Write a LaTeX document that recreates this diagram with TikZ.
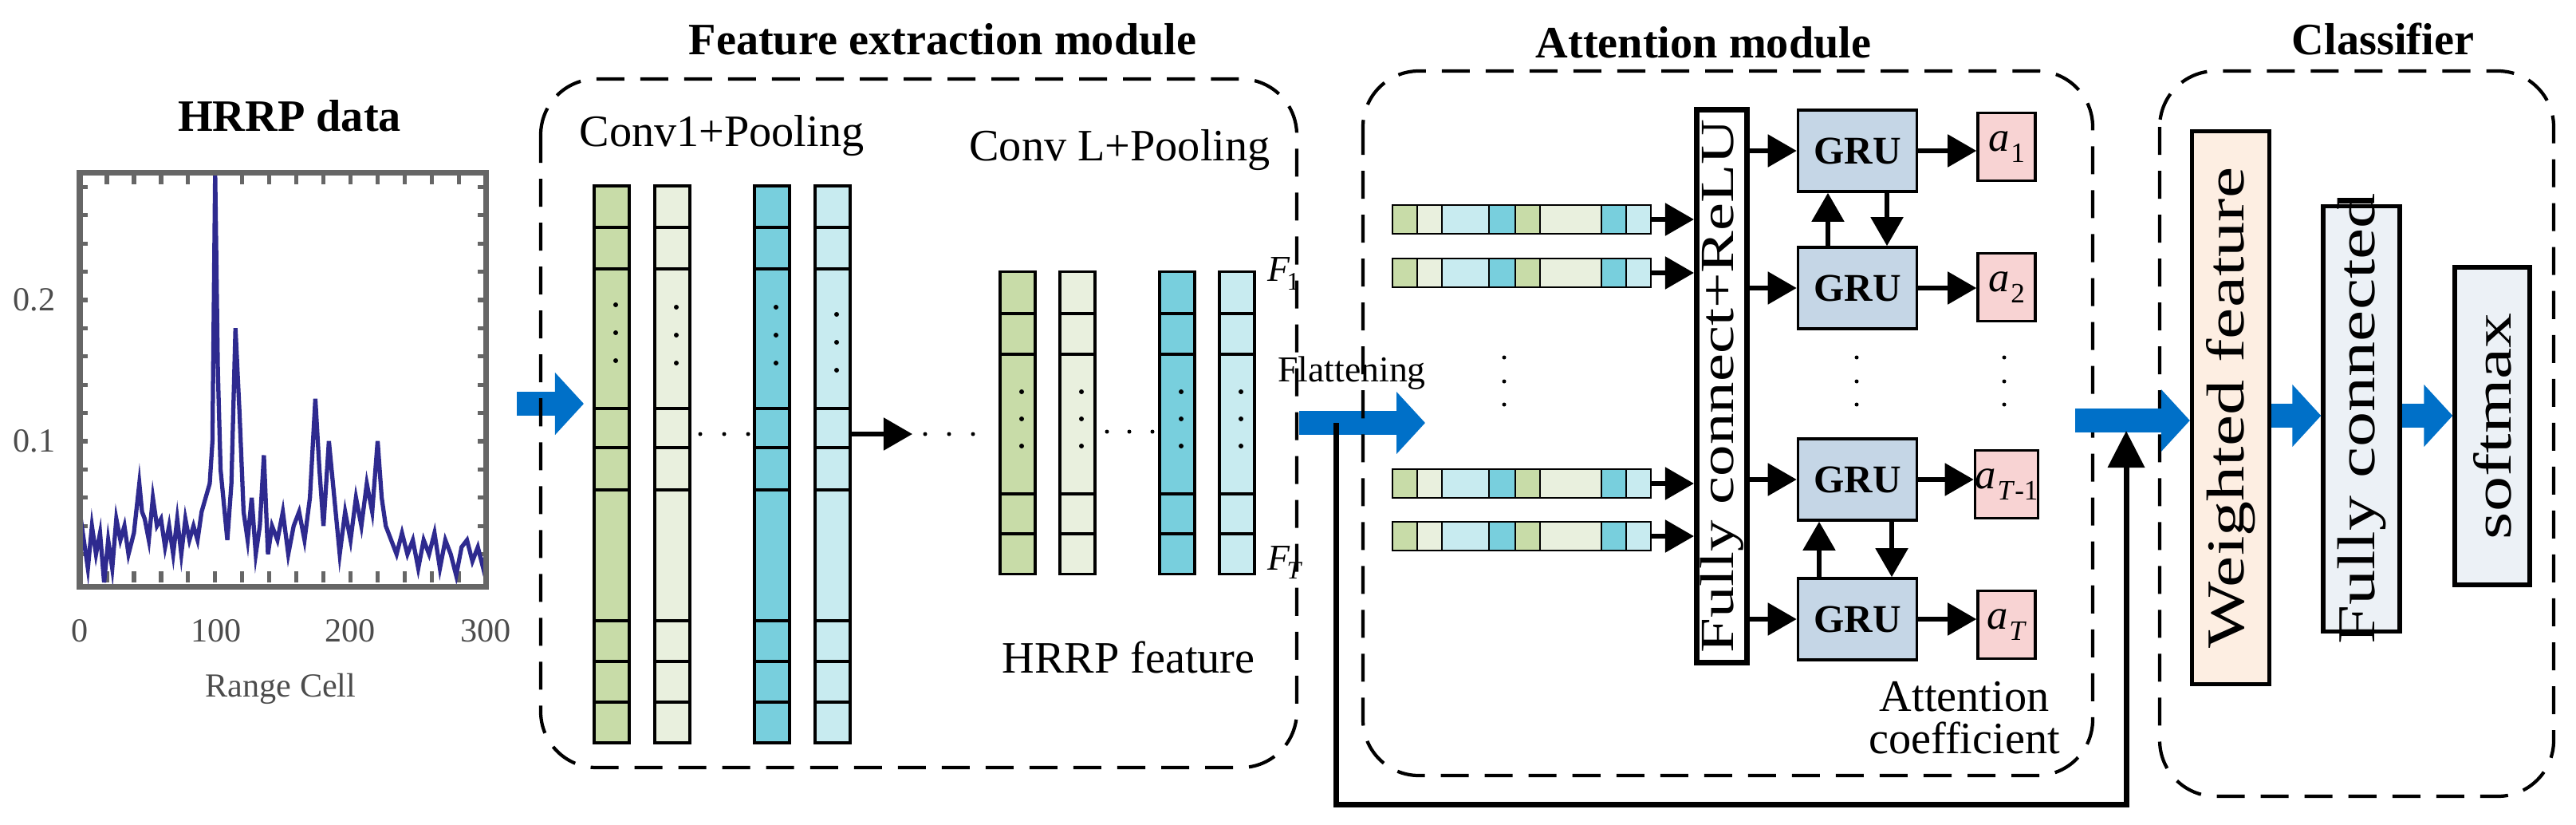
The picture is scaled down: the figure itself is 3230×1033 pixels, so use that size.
\documentclass[tikz,border=0pt]{standalone}
\usepackage{fontspec}
\setmainfont{Liberation Serif}
\usepackage{tikz}
\usetikzlibrary{arrows.meta,positioning,calc}
\definecolor{cgreen}{RGB}{200,220,168}
\definecolor{clgreen}{RGB}{233,240,222}
\definecolor{ccyan}{RGB}{120,207,221}
\definecolor{clcyan}{RGB}{200,235,240}
\definecolor{grufill}{RGB}{197,214,230}
\definecolor{afill}{RGB}{248,211,211}
\definecolor{wffill}{RGB}{253,238,226}
\definecolor{clsfill}{RGB}{236,241,246}
\definecolor{arrowblue}{RGB}{0,112,200}
\definecolor{hrrpblue}{RGB}{46,42,143}
\newcommand{\coefsym}[1]{\textit{a}\kern0.5pt\raisebox{-4pt}{\fontsize{10}{11}\selectfont #1}}
\newcommand{\widetxt}[1]{\scalebox{1.32}[1]{#1}}

\begin{document}
\begin{tikzpicture}[
    x=0.01cm, y=-0.01cm,
    title/.style={font=\fontsize{16}{19}\selectfont\bfseries},
    txt/.style={font=\fontsize{16}{19}\selectfont},
    rot/.style={rotate=90, font=\fontsize{17}{20}\selectfont},
    small/.style={font=\fontsize{12}{14}\selectfont, text=black!70},
    module/.style={draw, line width=1.2pt, dash pattern=on 0.35cm off 0.2cm, rounded corners=0.7cm},
    fcol/.style={rectangle, draw, line width=1pt, inner sep=0pt, minimum width=0.44cm},
    seg/.style={draw, line width=0.8pt},
    gru/.style={rectangle, draw, line width=1pt, fill=grufill, minimum width=1.49cm, minimum height=1.02cm, font=\fontsize{14}{16}\selectfont\bfseries},
    coef/.style={rectangle, draw, line width=1pt, fill=afill, minimum width=0.72cm, minimum height=0.85cm, inner sep=0pt, font=\fontsize{15}{17}\selectfont},
    cls/.style={rectangle, draw, line width=1.5pt, inner sep=0pt},
    blk/.style={-{Triangle[length=0.36cm,width=0.4cm]}, line width=1.5pt},
    big/.style={-{Triangle[length=0.36cm,width=0.76cm]}, line width=0.3cm, arrowblue},
    dot/.style={fill, circle, inner sep=0pt, minimum size=0.07cm}
]
\useasboundingbox (0,0) rectangle (3230,1033);

% HRRP data plot
\node[title] (hrrptitle) at (363,145) {HRRP data};
\begin{scope}[shift={(100,730)}, x=0.016967cm, y=17.7cm]
  \foreach \t in {20,40,...,280} {
    \draw[black!60, line width=1.5pt] (\t,0) -- (\t,0.008);
    \draw[black!60, line width=1.5pt] (\t,0.29) -- (\t,0.282);
  }
  \foreach \t in {0.02,0.04,...,0.28} {
    \draw[black!60, line width=1.5pt] (0,\t) -- (6,\t);
    \draw[black!60, line width=1.5pt] (300,\t) -- (294,\t);
  }
  \draw[hrrpblue, line width=1.5pt] plot coordinates {
    (0,.05) (3,.03) (6,.01) (9,.04) (12,.02) (15,.035) (18,.0) (21,.03) (24,.01) (27,.045) (30,.03) (33,.04) (36,.02)
    (40,.035) (44,.07) (46,.05) (48,.045) (51,.03) (54,.06) (57,.04) (60,.045) (63,.025) (66,.04) (69,.02) (72,.045)
    (75,.02) (78,.045) (81,.03) (84,.04) (87,.03) (90,.05) (93,.06) (96,.07) (98,.1) (100,.29) (102,.15) (104,.08) (106,.06)
    (109,.03) (112,.07) (115,.18) (118,.12) (121,.05) (124,.03) (127,.06) (130,.02)
    (133,.04) (136,.09) (139,.02) (142,.04) (146,.03) (150,.05) (154,.02) (158,.04)
    (162,.05) (166,.03) (170,.06) (174,.13) (177,.08) (180,.04) (184,.10) (188,.06)
    (192,.02) (196,.05) (200,.03) (204,.06) (208,.04) (212,.07) (216,.05) (220,.10)
    (223,.06) (226,.04) (230,.03) (234,.02) (238,.035) (242,.02) (246,.03) (250,.01)
    (254,.03) (258,.02) (262,.035) (266,.01) (270,.03) (274,.02) (278,.005) (282,.025)
    (286,.03) (290,.015) (294,.025) (298,.01) (300,.02)};
  \draw[black!60, line width=2pt] (0,-0.003) rectangle (300,0.29);
\end{scope}
\node[small] at (43,376) {0.2};
\node[small] at (43,553) {0.1};
\foreach \lx/\lt in {100/0, 271/100, 439/200, 609/300}
  \node[small] at (\lx,791) {\lt};
\node[small] (rangecell) at (352,863) {Range Cell};
\coordinate (in1) at (648,506);
\coordinate (in2) at (732,506);
\draw[big] (in1) -- (in2);

% Feature extraction module
\draw[module] (678,99) rectangle (1626,962);
\node[title] at (1182,49) {Feature extraction module};
\node[txt] at (905,170) {Conv1+Pooling};
\node[txt] at (1404,188) {Conv L+Pooling};
\node[txt] at (1415,824) {HRRP feature};
\foreach \cx/\cf/\cn in {767/cgreen/p1, 843/clgreen/p2, 968/ccyan/p3, 1044/clcyan/p4} {
  \node[fcol, fill=\cf, minimum height=6.98cm] (\cn) at (\cx,582) {};
  \foreach \dy in {285,337,512,561,614,778,829,880}
    \draw[line width=1pt] (\cn.west |- 0,\dy) -- (\cn.east |- 0,\dy);
}
\foreach \cn/\dy in {p1/0, p2/3, p3/3, p4/12}
  \foreach \k in {0,35,70}
    \node[dot, minimum size=0.06cm] at ($(\cn)+(5,-200+\dy+\k)$) {};
\foreach \dx in {878,908,938}
  \node[dot, minimum size=0.05cm] at (\dx,544) {};
\foreach \cx/\cf/\cn in {1276/cgreen/q1, 1351/clgreen/q2, 1476/ccyan/q3, 1551/clcyan/q4} {
  \node[fcol, fill=\cf, minimum height=3.79cm] (\cn) at (\cx,530) {};
  \foreach \dy in {393,444,619,669}
    \draw[line width=1pt] (\cn.west |- 0,\dy) -- (\cn.east |- 0,\dy);
  \foreach \k in {491,525,559}
    \node[dot, minimum size=0.06cm] at ($(\cn.center |- 0,\k)+(5,0)$) {};
}
\foreach \dx in {1388,1416,1445}
  \node[dot, minimum size=0.05cm] at (\dx,541) {};
\coordinate (skip) at (1144,544);
\draw[blk] (p4.east |- skip) -- (skip);
\foreach \dx in {1160,1190,1220}
  \node[dot, minimum size=0.05cm] at (\dx,544) {};
\node[font=\fontsize{13}{15}\selectfont\itshape, anchor=west, inner sep=1pt] at (1585,343) {F\kern-1pt\raisebox{-3pt}{\fontsize{9}{10}\selectfont\upshape 1}};
\node[font=\fontsize{13}{15}\selectfont\itshape, anchor=west, inner sep=1pt] at (1585,705) {F\kern-1pt\raisebox{-3pt}{\fontsize{9}{10}\selectfont T}};

% Flattening
\node[font=\fontsize{13}{15}\selectfont] at (1695,468) {Flattening};
\coordinate (fls) at (1629,530);
\coordinate (fle) at (1787,530);
\draw[big] (fls) -- (fle);

% Attention module
\draw[module] (1709,89) rectangle (2624,972);
\node[title] at (2136,53) {Attention module};
\node[cls, line width=2pt, fill=white, minimum width=0.63cm, minimum height=6.92cm] (fc) at (2159,484) {};
\node[rot] at (fc) {\widetxt{Fully connect+ReLU}};
\foreach \sn/\sy in {s1/275, s2/342, s3/606, s4/672} {
  \foreach \xa/\xb/\sf in {1746/1777/cgreen, 1777/1808/clgreen, 1808/1867/clcyan, 1867/1900/ccyan,
                           1900/1931/cgreen, 1931/2008/clgreen, 2008/2039/ccyan, 2039/2070/clcyan}
    \draw[seg, fill=\sf] (\xa,\sy-18) rectangle (\xb,\sy+18);
  \coordinate (\sn) at (2070,\sy);
  \draw[blk] (\sn) -- (\sn -| fc.west);
}
\foreach \dy in {448,478,507}
  \node[dot, minimum size=0.05cm] at (1886,\dy) {};
\foreach \i/\gy/\ay/\al in {1/189/184/1, 2/361/360/2, 3/601/607/{\textit{T}-1}, 4/776/783/\textit{T}} {
  \node[gru] (g\i) at (2329,\gy) {GRU};
  \node[coef] (a\i) at (2516,\ay) {\coefsym{\al}};
  \draw[blk] (g\i.west -| fc.east) -- (g\i.west);
  \draw[blk] (g\i.east) -- (g\i.east -| a\i.west);
}
\draw[blk] ([xshift=-0.37cm]g2.north) -- ([xshift=-0.37cm]g1.south);
\draw[blk] ([xshift=0.37cm]g1.south) -- ([xshift=0.37cm]g2.north);
\draw[blk] ([xshift=-0.48cm]g4.north) -- ([xshift=-0.48cm]g3.south);
\draw[blk] ([xshift=0.43cm]g3.south) -- ([xshift=0.43cm]g4.north);
\foreach \dy in {448,478,507} {
  \node[dot, minimum size=0.05cm] at (2328,\dy) {};
  \node[dot, minimum size=0.05cm] at (2513,\dy) {};
}
\node[txt, align=center] at (2463,900) {Attention\\[-4pt]coefficient};

% Classifier
\draw[module] (2708,89) rectangle (3202,998);
\node[title] at (2988,49) {Classifier};
\node[cls, fill=wffill, minimum width=0.97cm, minimum height=6.93cm] (wf) at (2797,511) {};
\node[rot, font=\fontsize{19}{22}\selectfont] at (wf) {\widetxt{Weighted feature}};
\node[cls, fill=clsfill, minimum width=0.96cm, minimum height=5.32cm] (fcn) at (2961,525) {};
\node[rot, font=\fontsize{19}{22}\selectfont] at (fcn) {\widetxt{Fully connected}};
\node[cls, fill=clsfill, minimum width=0.94cm, minimum height=3.98cm] (sm) at (3125,534) {};
\node[rot, font=\fontsize{19}{22}\selectfont] at (sm) {\widetxt{softmax}};
\coordinate (cin) at (2602,527);
\draw[big] (cin) -- (cin -| wf.west);
\draw[big] (wf.east |- 0,521) -- (fcn.west |- 0,521);
\draw[big] (fcn.east |- 0,521) -- (sm.west |- 0,521);

% Feedback connection
\coordinate (fbs) at (1675,530);
\coordinate (fbe) at (2666,540);
\draw[-{Triangle[length=0.46cm,width=0.45cm]}, line width=2pt] (fbs) -- (1675,1008) -| (fbe);
\end{tikzpicture}
\end{document}
